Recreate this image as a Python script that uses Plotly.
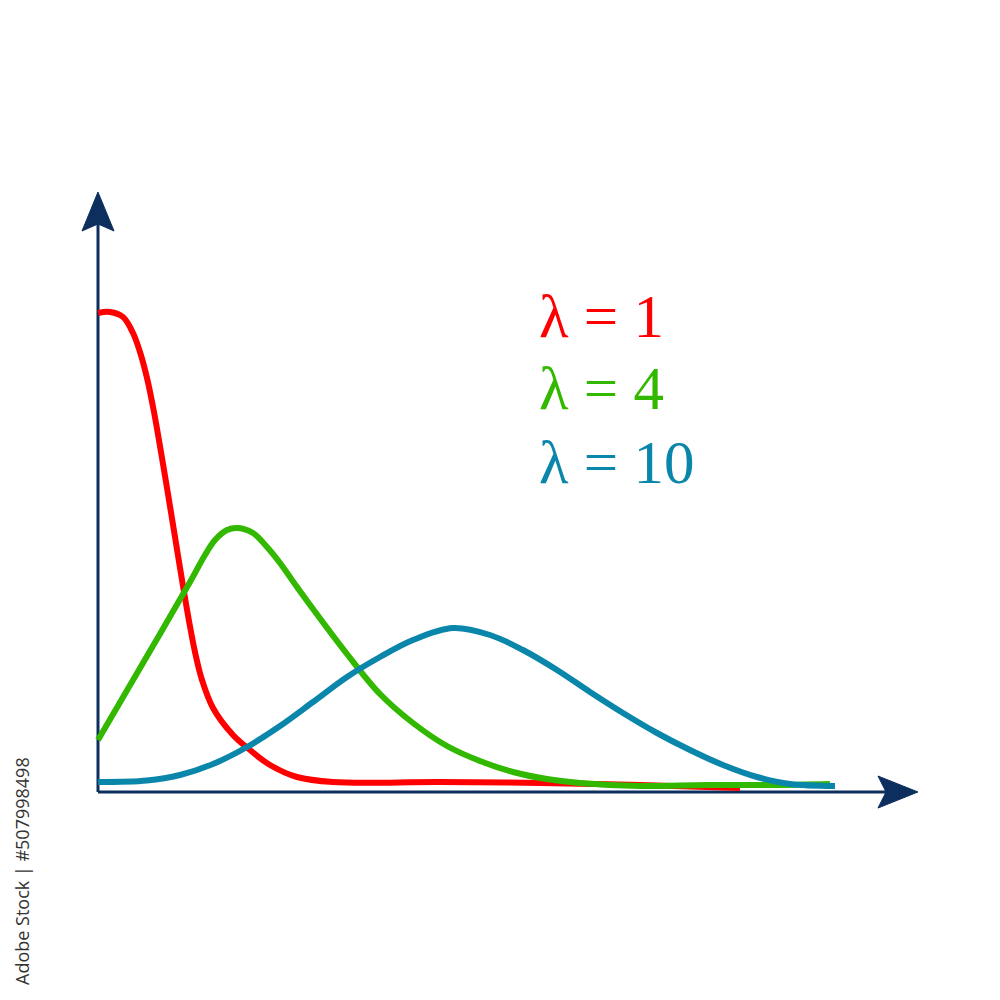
import plotly.graph_objects as go

# ---- data (arbitrary chart units: x along horizontal axis, y density height) ----
red_x = [0, 1.2, 2.5, 3.5, 4.2, 4.9, 5.6, 6.3, 7.0, 7.7, 8.4, 9.1, 9.7, 10.4, 11.5, 13.5, 15.2, 17.2, 19.9, 23.5, 34.2, 44.2, 54.2, 64.2]
red_y = [47.9, 48.0, 47.5, 45.9, 44.0, 41.4, 38.0, 34.0, 29.8, 25.5, 21.2, 17.1, 14.0, 11.2, 8.4, 5.7, 4.2, 2.7, 1.5, 1.0, 1.0, 0.9, 0.7, 0.4]

green_x = [0, 5.2, 9.2, 10.7, 11.7, 12.9, 14.0, 15.5, 16.9, 18.2, 19.9, 21.5, 24.9, 28.2, 31.5, 34.9, 38.2, 41.5, 44.9, 48.2, 54.2, 60.9, 67.5, 73.2]
green_y = [5.2, 14.1, 21.0, 23.7, 25.2, 26.2, 26.4, 25.9, 24.5, 22.9, 20.5, 18.3, 13.8, 9.8, 6.9, 4.6, 3.1, 2.0, 1.3, 0.9, 0.6, 0.7, 0.7, 0.8]

blue_x = [0, 4.9, 8.2, 11.5, 14.9, 18.2, 21.5, 24.9, 28.2, 31.5, 35.5, 39.2, 42.5, 45.9, 49.2, 52.5, 55.9, 59.2, 62.5, 65.9, 69.2, 73.7]
blue_y = [1.0, 1.15, 1.7, 2.8, 4.5, 6.6, 9.0, 11.5, 13.5, 15.2, 16.4, 15.7, 14.2, 12.2, 10.0, 7.9, 5.9, 4.2, 2.7, 1.5, 0.8, 0.6]

labels = ["λ = 1", "λ = 4", "λ = 10"]
colors = ["#ff0000", "#33b800", "#0b86ab"]
axis_color = "#0d2f5e"

W = H = 992          # page has an 8px body margin
OFF = 8

fig = go.Figure()
for xs, ys, c, name in [(red_x, red_y, colors[0], labels[0]),
                        (green_x, green_y, colors[1], labels[1]),
                        (blue_x, blue_y, colors[2], labels[2])]:
    fig.add_trace(go.Scatter(x=xs, y=ys, mode="lines", name=name,
                             line=dict(color=c, width=6, shape="spline", smoothing=1.0),
                             showlegend=False, hoverinfo="skip"))

def P(px, py):
    return (px - OFF) / W, 1 - (py - OFF) / H

def path(points):
    s = ""
    for i, (px, py) in enumerate(points):
        x, y = P(px, py)
        s += ("M" if i == 0 else "L") + f"{x:.4f},{y:.4f} "
    return s + "Z"

shapes = []
x0, y0 = P(98, 792)
x1, y1 = P(98, 224)
shapes.append(dict(type="line", xref="paper", yref="paper", x0=x0, y0=y0, x1=x1, y1=y1,
                   line=dict(color=axis_color, width=3), layer="below"))
x1, y1 = P(886, 792)
shapes.append(dict(type="line", xref="paper", yref="paper", x0=x0, y0=y0, x1=x1, y1=y1,
                   line=dict(color=axis_color, width=3), layer="below"))
shapes.append(dict(type="path", xref="paper", yref="paper",
                   path=path([(98, 192), (114, 231), (98, 224), (82, 231)]),
                   fillcolor=axis_color, line=dict(color=axis_color, width=1)))
shapes.append(dict(type="path", xref="paper", yref="paper",
                   path=path([(918, 792), (878, 808), (886, 792), (878, 776)]),
                   fillcolor=axis_color, line=dict(color=axis_color, width=1)))

annotations = []
for i, (t, c) in enumerate(zip(labels, colors)):
    ax, ay = P(537, 316 + i * 73)
    annotations.append(dict(x=ax, y=ay, xref="paper", yref="paper", text=t, showarrow=False,
                            xanchor="left", yanchor="middle",
                            font=dict(family="Times New Roman, Liberation Serif, serif", size=61, color=c)))
wx, wy = P(22, 871)
annotations.append(dict(x=wx, y=wy, xref="paper", yref="paper", text="Adobe Stock | #507998498",
                        showarrow=False, textangle=-90, xanchor="center", yanchor="middle",
                        font=dict(family="Open Sans", size=18, color="#333333")))

# data x = (page_px - 98)/10, data y = (792 - page_py)/10
fig.update_layout(
    width=W, height=H,
    margin=dict(l=0, r=0, t=0, b=0),
    paper_bgcolor="white", plot_bgcolor="white",
    xaxis=dict(range=[(OFF - 98) / 10, (OFF + W - 98) / 10], visible=False, fixedrange=True),
    yaxis=dict(range=[(792 - OFF - H) / 10, (792 - OFF) / 10], visible=False, fixedrange=True),
    shapes=shapes, annotations=annotations,
)

fig.write_html("out.html")
